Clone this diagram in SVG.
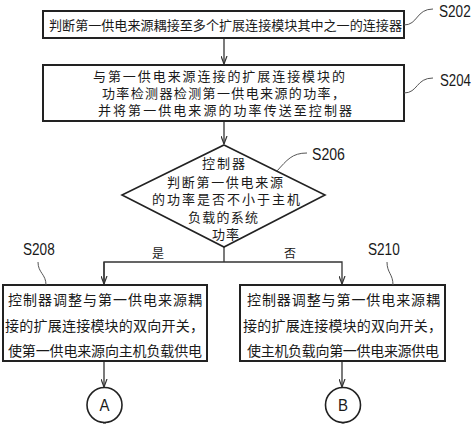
<svg xmlns="http://www.w3.org/2000/svg" width="474" height="424" viewBox="0 0 474 424">
<style>
.box{fill:#fff;stroke:#222;stroke-width:2}
.dia{fill:#fff;stroke:#222;stroke-width:1.6}
.ln{fill:none;stroke:#333;stroke-width:1.3}
.sq{fill:none;stroke:#555;stroke-width:1}
.cn{font-family:"Noto Sans CJK SC","Noto Sans CJK TC",sans-serif;fill:#1a1a1a}
.t13{font-size:13px}
.t14{font-size:14px}
.lab{font-family:"Liberation Sans",Arial,sans-serif;font-size:17px;fill:#1a1a1a}
.yn{font-family:"Noto Sans CJK SC",sans-serif;font-size:12px;fill:#1a1a1a}
</style>
<defs>
<marker id="arr" markerUnits="userSpaceOnUse" markerWidth="8" markerHeight="7" viewBox="0 0 8 7" refX="8" refY="3.5" orient="auto">
<path d="M0,0.5 L8,3.5 L0,6.5" fill="none" stroke="#333" stroke-width="1.2"/>
</marker>
</defs>
<rect width="474" height="424" fill="#fff"/>
<g id="connectors">
<line class="ln" x1="224" y1="38" x2="224" y2="64" marker-end="url(#arr)"/>
<line class="ln" x1="224" y1="121" x2="224" y2="144" marker-end="url(#arr)"/>
<polyline class="ln" points="224,247 224,262"/>
<polyline class="ln" points="104,284 104,262 342,262 342,284" marker-end="url(#arr)"/>
<line class="ln" x1="104" y1="262" x2="104" y2="284" marker-end="url(#arr)"/>
<line class="ln" x1="104" y1="361" x2="104" y2="387" marker-end="url(#arr)"/>
<line class="ln" x1="342" y1="361" x2="342" y2="387" marker-end="url(#arr)"/>
<line x1="104.5" y1="422" x2="104.5" y2="424" stroke="#888" stroke-width="3"/>
<line x1="343" y1="422" x2="343" y2="424" stroke="#888" stroke-width="3"/>
<text class="yn" x="152" y="258">是</text>
<text class="yn" x="284" y="258">否</text>
</g>
<g id="S202">
<rect class="box" x="43" y="11" width="361" height="27"/>
<text class="cn t13" x="49" y="30" textLength="353" lengthAdjust="spacingAndGlyphs">判断第一供电来源耦接至多个扩展连接模块其中之一的连接器</text>
<path class="sq" d="M404,25 C418,25 416,9 433,9"/>
<text class="lab" transform="translate(439,16.5) scale(0.8,1)">S202</text>
</g>
<g id="S204">
<rect class="box" x="43" y="65" width="361" height="56"/>
<text class="cn t13" x="93" y="81" textLength="252" lengthAdjust="spacing">与第一供电来源连接的扩展连接模块的</text>
<text class="cn t13" x="102" y="98" textLength="243" lengthAdjust="spacing">功率检测器检测第一供电来源的功率，</text>
<text class="cn t13" x="98" y="115" textLength="254" lengthAdjust="spacing">并将第一供电来源的功率传送至控制器</text>
<path class="sq" d="M404,93 C418,93 416,78 433,78"/>
<text class="lab" transform="translate(440,86) scale(0.78,1)">S204</text>
</g>
<g id="S206">
<polygon class="dia" points="224,145 325,195 224,247 122,195"/>
<text class="cn t13" x="202" y="168" textLength="43" lengthAdjust="spacing">控制器</text>
<text class="cn t13" x="167" y="187" textLength="116" lengthAdjust="spacing">判断第一供电来源</text>
<text class="cn t13" x="152" y="204" textLength="148" lengthAdjust="spacing">的功率是否不小于主机</text>
<text class="cn t13" x="188" y="222" textLength="70" lengthAdjust="spacing">负载的系统</text>
<text class="cn t13" x="212" y="239" textLength="27" lengthAdjust="spacing">功率</text>
<path class="sq" d="M277,171 C287,160 292,153 307,153"/>
<text class="lab" transform="translate(312,160) scale(0.83,1)">S206</text>
</g>
<g id="S208">
<rect class="box" x="3" y="285" width="204" height="76"/>
<text class="cn t14" x="8" y="305" textLength="194" lengthAdjust="spacing">控制器调整与第一供电来源耦</text>
<text class="cn t14" x="5" y="331" textLength="199" lengthAdjust="spacing">接的扩展连接模块的双向开关，</text>
<text class="cn t14" x="8" y="356" textLength="194" lengthAdjust="spacing">使第一供电来源向主机负载供电</text>
<path class="sq" d="M38,262 C38,273 46,274 46,285"/>
<text class="lab" transform="translate(23,255) scale(0.8,1)">S208</text>
</g>
<g id="S210">
<rect class="box" x="240" y="285" width="205" height="76"/>
<text class="cn t14" x="247" y="305" textLength="193" lengthAdjust="spacing">控制器调整与第一供电来源耦</text>
<text class="cn t14" x="243" y="331" textLength="199" lengthAdjust="spacing">接的扩展连接模块的双向开关，</text>
<text class="cn t14" x="247" y="356" textLength="192" lengthAdjust="spacing">使主机负载向第一供电来源供电</text>
<path class="sq" d="M387,262 C387,273 393,274 393,285"/>
<text class="lab" transform="translate(368,255) scale(0.8,1)">S210</text>
</g>
<g id="A">
<circle cx="104.5" cy="405" r="17.5" fill="#fff" stroke="#222" stroke-width="1.6"/>
<text x="104.5" y="411" text-anchor="middle" font-family="Liberation Sans,Arial,sans-serif" font-size="17" fill="#1a1a1a" textLength="10" lengthAdjust="spacingAndGlyphs">A</text>
</g>
<g id="B">
<circle cx="343" cy="405" r="17.5" fill="#fff" stroke="#222" stroke-width="1.6"/>
<text x="343" y="411" text-anchor="middle" font-family="Liberation Sans,Arial,sans-serif" font-size="17" fill="#1a1a1a" textLength="10" lengthAdjust="spacingAndGlyphs">B</text>
</g>
</svg>
